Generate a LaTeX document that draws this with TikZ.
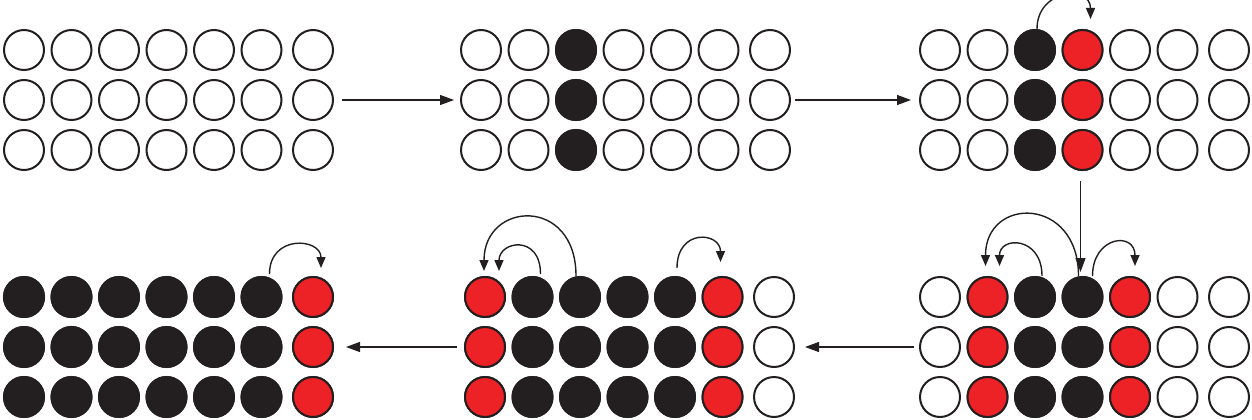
\documentclass[tikz,border=0pt]{standalone}
\usetikzlibrary{arrows.meta,calc}
\definecolor{bk}{HTML}{231F20}
\definecolor{rd}{HTML}{EC2227}
\begin{document}
\begin{tikzpicture}[x=1pt,y=-1pt,
  dot/.style={circle,draw=bk,line width=2pt,minimum size=40pt,inner sep=0pt,fill=white},
  blk/.style={fill=bk},
  red/.style={fill=rd},
  arr/.style={draw=bk,line width=1.4pt,-{Triangle[length=11pt,width=9pt]}},
  step arrow/.style={draw=bk,line width=1.2pt,-{Triangle[length=14pt,width=10pt]}}]
\useasboundingbox (0,0) rectangle (1252,420);
\def\cols{1/0,2/47.5,3/95,4/142.5,5/190,6/237.5,7/289}
% panel p, origin x,y, and a list of col:style
\newcommand\mypanel[4]{%
  \foreach \c/\dx in \cols {%
    \foreach \r/\dy in {1/0,2/50,3/100} {%
      \node[dot] (p#1-\r-\c) at (#2+\dx,#3+\dy) {};
    }}%
  \foreach \c/\s in {#4} {%
    \foreach \r in {1,2,3} {\node[dot,\s] at (p#1-\r-\c) {};}}%
}
\mypanel{1}{24}{50}{}
\mypanel{2}{481}{50}{3/blk}
\mypanel{3}{940}{50}{3/blk,4/red}
\mypanel{4}{24}{297}{1/blk,2/blk,3/blk,4/blk,5/blk,6/blk,7/red}
\mypanel{5}{485}{297}{1/red,2/blk,3/blk,4/blk,5/blk,6/red}
\mypanel{6}{940}{297}{2/red,3/blk,4/blk,5/red}
% step arrows
\draw[step arrow] ($(p1-2-7.east)+(8,0)$) -- ($(p2-2-1.west)+(-6,0)$);
\draw[step arrow] ($(p2-2-7.east)+(4,0)$) -- ($(p3-2-1.west)+(-8,0)$);
\draw[step arrow] ($(p3-3-4.south)+(-2,10)$) -- ($(p6-1-4.north)+(-2,-4)$);
\draw[step arrow] ($(p6-2-1.west)+(-5,0)$) -- ($(p5-2-7.east)+(10,0)$);
\draw[step arrow] ($(p5-2-1.west)+(-7,0)$) -- ($(p4-2-7.east)+(12,0)$);
% panel 3 arc
\draw[arr] ($(p3-1-3.north)+(2,0)$) .. controls +(0,-40) and +(0,-35) .. ($(p3-1-4.north)+(8,-10)$);
% panel 6 arcs
\draw[arr] ($(p6-1-3.north)+(7,0)$) .. controls +(0,-40) and +(0,-30) .. ($(p6-1-2.north)+(12,-10)$);
\draw[arr] ($(p6-1-4.north)+(-4,0)$) .. controls +(0,-80) and +(0,-70) .. ($(p6-1-2.north)+(-2,-10)$);
\draw[arr] ($(p6-1-4.north)+(10,0)$) .. controls +(0,-40) and +(0,-35) .. ($(p6-1-5.north)+(5,-10)$);
% panel 5 arcs
\draw[arr] ($(p5-1-2.north)+(8,-2)$) .. controls +(0,-40) and +(0,-30) .. ($(p5-1-1.north)+(14,-5)$);
\draw[arr] ($(p5-1-3.north)+(-4,0)$) .. controls +(0,-80) and +(0,-70) .. ($(p5-1-1.north)+(-1,-5)$);
\draw[arr] ($(p5-1-5.north)+(2,-8)$) .. controls +(0,-40) and +(0,-30) .. ($(p5-1-6.north)+(-2,-14)$);
% panel 4 arc
\draw[arr] ($(p4-1-6.north)+(8,-2)$) .. controls +(0,-40) and +(0,-30) .. ($(p4-1-7.north)+(8,-8)$);
\end{tikzpicture}
\end{document}
